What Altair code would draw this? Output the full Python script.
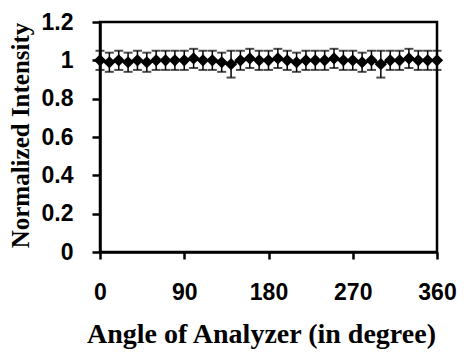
import altair as alt
import pandas as pd

angles = list(range(0, 361, 10))
intensity = [1.00, 0.99, 1.00, 0.99, 1.00, 0.99, 1.00, 1.00, 1.00, 1.00,
             1.01, 1.00, 1.00, 0.99, 0.98, 1.00, 1.01, 1.00, 1.00, 1.01,
             1.00, 0.99, 1.00, 1.00, 1.00, 1.01, 1.00, 1.00, 0.99, 1.00,
             0.98, 1.00, 1.00, 1.01, 1.00, 1.00, 1.00]
errors = [0.05, 0.05, 0.05, 0.05, 0.05, 0.05, 0.05, 0.05, 0.05, 0.05,
          0.05, 0.05, 0.05, 0.05, 0.07, 0.05, 0.05, 0.05, 0.05, 0.05,
          0.05, 0.05, 0.05, 0.05, 0.05, 0.05, 0.05, 0.05, 0.05, 0.05,
          0.07, 0.05, 0.05, 0.05, 0.05, 0.05, 0.05]
x_ticks = [0, 90, 180, 270, 360]
y_ticks = [0, 0.2, 0.4, 0.6, 0.8, 1.0, 1.2]

df = pd.DataFrame({"angle": angles, "val": intensity, "err": errors})
df["lo"] = df["val"] - df["err"]
df["hi"] = df["val"] + df["err"]

xs = alt.Scale(domain=[0, 360], nice=False, zero=False)
ys = alt.Scale(domain=[0, 1.2], nice=False, zero=True)

xaxis = alt.Axis(values=x_ticks, title="Angle of Analyzer (in degree)",
                 labelFont="Liberation Sans", labelFontWeight="bold", labelFontSize=23,
                 labelColor="black", labelPadding=22, tickSize=7, tickWidth=2.5,
                 labelOverlap=False, labelFlush=False, labelBound=False,
                 tickColor="black", domainColor="black", domainWidth=2.5, grid=False,
                 titleFont="Liberation Serif", titleFontWeight="bold", titleFontSize=28,
                 titleColor="black", titleX=161, titleY=82, titleBaseline="middle",
                 titleAlign="center")
yaxis = alt.Axis(values=y_ticks, format=".1~f", title="Normalized Intensity",
                 labelFont="Liberation Sans", labelFontWeight="bold", labelFontSize=23,
                 labelColor="black", labelPadding=19, tickSize=8, tickWidth=2.5,
                 labelOverlap=False, labelFlush=False, labelBound=False,
                 tickColor="black", domainColor="black", domainWidth=2.5, grid=False,
                 titleFont="Liberation Serif", titleFontWeight="bold", titleFontSize=25,
                 titleColor="black", titleX=-80, titleY=113, titleAngle=270,
                 titleBaseline="middle", titleAlign="center")

base = alt.Chart(df)
X = alt.X("angle:Q", scale=xs, axis=xaxis)

rules = base.mark_rule(color="black", strokeWidth=1.5).encode(
    x=X, y=alt.Y("lo:Q", scale=ys, axis=yaxis), y2="hi:Q")
cap_lo = base.mark_tick(color="black", orient="horizontal", size=9, thickness=2).encode(
    x=X, y=alt.Y("lo:Q", scale=ys, axis=yaxis))
cap_hi = base.mark_tick(color="black", orient="horizontal", size=9, thickness=2).encode(
    x=X, y=alt.Y("hi:Q", scale=ys, axis=yaxis))
line = base.mark_line(color="black", strokeWidth=2.5).encode(
    x=X, y=alt.Y("val:Q", scale=ys, axis=yaxis))
pts = base.mark_point(shape="diamond", filled=True, color="black", size=150, opacity=1).encode(
    x=X, y=alt.Y("val:Q", scale=ys, axis=yaxis))

chart = alt.layer(rules, cap_lo, cap_hi, line, pts).properties(
    width=337, height=230,
    autosize=alt.AutoSizeParams(type="none"),
    padding={"left": 92, "top": 14, "right": 29, "bottom": 97},
).configure_view(stroke="black", strokeWidth=2.5).configure_axis(labelOverlap=False)

chart.save("out.html", embed_options={"renderer": "svg", "actions": False})
